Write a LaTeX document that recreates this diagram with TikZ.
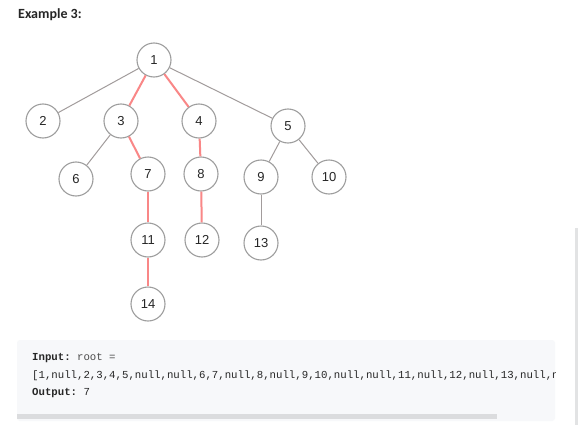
\documentclass[tikz,border=0pt]{standalone}
\usepackage{fontspec}
\setmainfont{Liberation Sans}
\setmonofont{Liberation Mono}
\newfontfamily\titlefont{Carlito}
\usetikzlibrary{positioning}
\definecolor{ringgray}{HTML}{9E9E9E}
\definecolor{edgegray}{HTML}{A29C9C}
\definecolor{pathred}{HTML}{F98787}
\definecolor{codebg}{HTML}{F7F8FA}
\definecolor{codetext}{HTML}{262626}
\definecolor{barrgray}{HTML}{DBDCDE}
\tikzset{
  tnode/.style={circle, draw=ringgray, line width=1.1pt, fill=white,
    minimum size=34pt, inner sep=0pt, font=\fontsize{13}{15}\selectfont, text=black!85},
  plain/.style={draw=edgegray, line width=1pt},
  longest/.style={draw=pathred, line width=2pt},
  codeline/.style={anchor=west, inner sep=0pt, text=codetext,
    font=\ttfamily\fontsize{10.7}{12}\selectfont},
}
\begin{document}
\begin{tikzpicture}[x=1pt, y=-1pt]
  \useasboundingbox (0,0) rectangle (578,431);
  \fill[white] (0,0) rectangle (578,431);
  \node[anchor=west, inner sep=0pt, font=\titlefont\bfseries\fontsize{14}{16}\selectfont, text=black!85]
    (title) at (18,15) {Example 3:};
  % tree nodes
  \foreach \n/\x/\y in {1/154/60, 2/43/121, 3/121/121, 4/199/121, 5/288/126,
      6/76/179, 7/148/174, 8/201/174, 9/261/177, 10/329/177,
      11/148/240, 12/202/240, 13/261/243, 14/148/304}
    \node[tnode] (n\n) at (\x,\y) {\n};
  \foreach \a/\b in {1/2, 1/5, 3/6, 5/9, 5/10, 9/13}
    \draw[plain] (n\a) -- (n\b);
  \foreach \a/\b in {1/3, 1/4, 3/7, 4/8, 7/11, 8/12, 11/14}
    \draw[longest] (n\a) -- (n\b);
  % code block
  \fill[codebg, rounded corners=3pt] (17,340) rectangle (555,421);
  \fill[barrgray] (17,414) rectangle (497,419);
  \fill[barrgray!80] (575,228) rectangle (578,425);
  \begin{scope}
    \clip (17,340) rectangle (555,421);
    \node[codeline] (inp) at (32,358) {\textbf{Input:} \textcolor{black!70}{root =}};
    \node[codeline] (arr) at (32,375.5)
      {[1,null,2,3,4,5,null,null,6,7,null,8,null,9,10,null,null,11,null,12,null,13,null,null,14]};
    \node[codeline] (outp) at (32,393) {\textbf{Output:} 7};
  \end{scope}
\end{tikzpicture}
\end{document}
